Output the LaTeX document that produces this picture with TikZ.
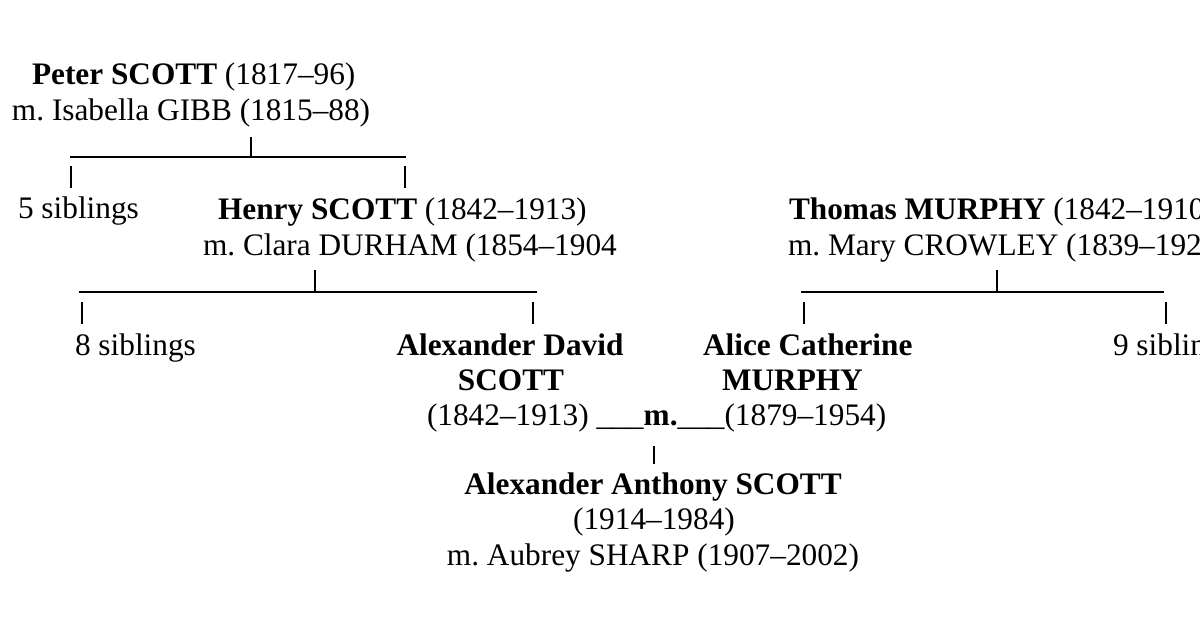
\documentclass[tikz,border=0pt]{standalone}
\usepackage{fontspec}
\setmainfont{Liberation Serif}
\frenchspacing
\begin{document}
\begin{tikzpicture}[x=1pt,y=-1pt,
  txt/.style={inner sep=0pt,outer sep=0pt,anchor=base west,font=\fontsize{31.3}{36}\selectfont},
  ctxt/.style={txt,anchor=base},
  bar/.style={line width=1.6pt,line cap=butt},
  pipe/.style={line width=1.5pt,line cap=butt}]
\useasboundingbox (0,0) rectangle (1200,630);
\clip (0,0) rectangle (1200,630);
\fill[white] (0,0) rectangle (1200,630);

% Generation 1: Peter SCOTT
\node[txt] (peter1) at (32,84) {\textbf{Peter SCOTT} (1817–96)};
\node[txt] (peter2) at (12,120) {m. Isabella GIBB (1815–88)};
\coordinate (p-top) at (251,137);
\coordinate (p-mid) at (251,157);
\coordinate (p-l) at (70,157);
\coordinate (p-r) at (406,157);
\coordinate (p-l1) at (71,166);
\coordinate (p-l2) at (71,188);
\coordinate (p-r1) at (405,166);
\coordinate (p-r2) at (405,188);
\draw[pipe] (p-top) -- (p-mid);
\draw[bar] (p-l) -- (p-r);
\draw[pipe] (p-l1) -- (p-l2);
\draw[pipe] (p-r1) -- (p-r2);

% Generation 2
\node[txt] (sib5) at (18,218) {5 siblings};
\node[txt] (henry1) at (218,219) {\textbf{Henry SCOTT} (1842–1913)};
\node[txt] (henry2) at (203,255) {m. Clara DURHAM (1854–1904};
\node[txt] (thomas1) at (789,219) {\textbf{Thomas MURPHY} (1842–1910)};
\node[txt] (thomas2) at (788,255) {m. Mary CROWLEY (1839–192};

% Henry family bar
\coordinate (h-top) at (315,270);
\coordinate (h-mid) at (315,292);
\coordinate (h-l) at (79,292);
\coordinate (h-r) at (537,292);
\coordinate (h-l1) at (82,302);
\coordinate (h-l2) at (82,324);
\coordinate (h-r1) at (533,302);
\coordinate (h-r2) at (533,324);
\draw[pipe] (h-top) -- (h-mid);
\draw[bar] (h-l) -- (h-r);
\draw[pipe] (h-l1) -- (h-l2);
\draw[pipe] (h-r1) -- (h-r2);

% Thomas family bar
\coordinate (t-top) at (997,270);
\coordinate (t-mid) at (997,292);
\coordinate (t-l) at (801,292);
\coordinate (t-r) at (1164,292);
\coordinate (t-l1) at (804,302);
\coordinate (t-l2) at (804,324);
\coordinate (t-r1) at (1166,302);
\coordinate (t-r2) at (1166,324);
\draw[pipe] (t-top) -- (t-mid);
\draw[bar] (t-l) -- (t-r);
\draw[pipe] (t-l1) -- (t-l2);
\draw[pipe] (t-r1) -- (t-r2);

% Generation 3
\node[txt] (sib8) at (75,355) {8 siblings};
\node[ctxt] (alex1) at (510,355) {\textbf{Alexander David}};
\node[ctxt] (alex2) at (511,390) {\textbf{SCOTT}};
\node[txt] (alice1) at (703,355) {\textbf{Alice Catherine}};
\node[txt] (alice2) at (722,390) {\textbf{MURPHY}};
\node[txt] (sib9) at (1113,355) {9 siblings};
\node[txt] (marr) at (427,425) {(1842–1913) \_\_\_\textbf{m.}\_\_\_(1879–1954)};

% Child pipe
\coordinate (m-top) at (654,446);
\coordinate (m-bot) at (654,464);
\draw[pipe] (m-top) -- (m-bot);

% Generation 4
\node[ctxt] (aa1) at (653,494) {\textbf{Alexander Anthony SCOTT}};
\node[ctxt] (aa2) at (654,529) {(1914–1984)};
\node[ctxt] (aa3) at (653,565) {m. Aubrey SHARP (1907–2002)};
\end{tikzpicture}
\end{document}
